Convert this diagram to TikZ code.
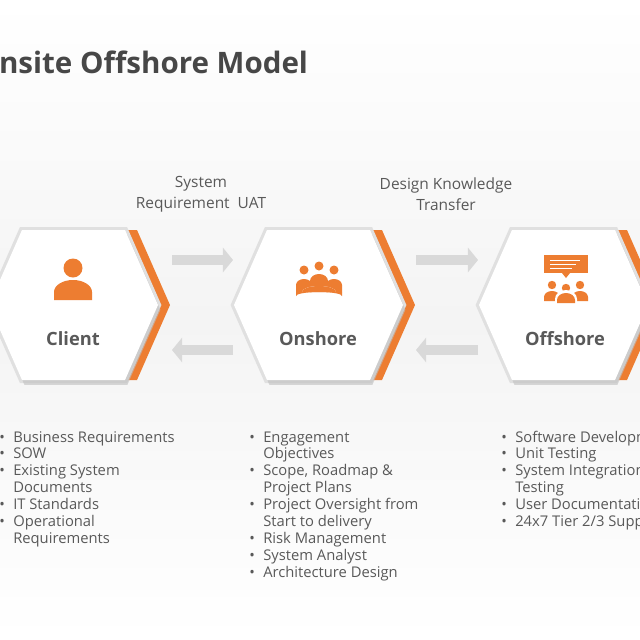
\documentclass[tikz,border=0pt]{standalone}
\usepackage{fontspec}
\setmainfont{Open Sans}
\usetikzlibrary{shadows,arrows.meta}
\definecolor{brandorange}{HTML}{ED7D31}
\definecolor{textgray}{HTML}{595959}
\definecolor{arrowgray}{HTML}{D9D9D9}
\definecolor{pagegray}{HTML}{F4F4F4}
\tikzset{
  hexbox/.style={fill=white,
    general shadow={shadow xshift=0pt, shadow yshift=0pt, shadow scale=1.04, fill=black!12},
    general shadow={shadow xshift=0.6mm, shadow yshift=-1.2mm, fill=black!25, opacity=.6}},
  chevron/.style={fill=brandorange},
  flowarrow/.style={draw=arrowgray, line width=2.6mm, -{Triangle[length=2.5mm,width=6mm]}},
  caption/.style={text=textgray, font=\fontsize{11}{15}\selectfont, align=center},
  hexlabel/.style={text=textgray, font=\bfseries\fontsize{13}{15}\selectfont},
  bulletlist/.style={text=textgray, font=\fontsize{10.5}{12}\selectfont, anchor=north west, inner sep=0pt},
  icon/.style={fill=brandorange, draw=none}
}
\newcommand{\hexcell}[1]{%
  % orange chevron behind the hexagon
  \fill[chevron] (#1+125,230) -- (#1+137,230) -- (#1+170,305) -- (#1+137,380) -- (#1+125,380) -- cycle;
  \path[hexbox] (#1+22,230) -- (#1+125,230) -- (#1+158,305) -- (#1+125,380) -- (#1+22,380) -- (#1-11,305) -- cycle;
}
\newcommand{\blist}[1]{\begin{tabular}{@{}l@{\hspace{6pt}}l@{}}#1\end{tabular}}
\begin{document}
\begin{tikzpicture}[x=0.025cm, y=-0.025cm]
\useasboundingbox (0,0) rectangle (640,640);
\clip (0,0) rectangle (640,640);
\shade[top color=white, bottom color=pagegray] (0,0) rectangle (640,320);
\shade[top color=pagegray, bottom color=white] (0,320) rectangle (640,640);
\node[anchor=base east, text=textgray!80!black, font=\bfseries\fontsize{21}{24}\selectfont] (title) at (313,73) {Onsite Offshore Model};

% hexagons
\hexcell{0}
\hexcell{245}
\hexcell{490}
\node[hexlabel] (client) at (73,339) {Client};
\node[hexlabel] (onshore) at (318,339) {Onshore};
\node[hexlabel] (offshore) at (565,339) {Offshore};

% client icon
\fill[icon] (73,268) circle (9.5);
\fill[icon] (54,300) -- (54,292) arc (180:360:19 and 12) -- (92,300) -- cycle;

% onshore icon
\foreach \px/\py in {304/270, 319/266, 334/270}{
  \fill[icon] (\px,\py) circle (4.5);
}
\fill[icon] (296,292) -- (296,285) arc (180:360:8 and 6) -- (312,292) -- cycle;
\fill[icon] (326,292) -- (326,285) arc (180:360:8 and 6) -- (342,292) -- cycle;
\fill[icon] (310,292) -- (310,281) arc (180:360:9 and 7) -- (328,292) -- cycle;
\fill[white] (302,292) arc (180:360:17 and 6) -- cycle;
\fill[icon] (296,296) -- (296,292) -- (302,292) arc (180:360:17 and 6) -- (342,292) -- (342,296) arc (0:180:23 and -4) -- cycle;

% offshore icon
\fill[icon] (544,255) rectangle (588,273);
\fill[icon] (562,273) -- (566,278) -- (570,273) -- cycle;
\foreach \ly/\lx in {260/580, 264/576, 268/572}{
  \draw[white, line width=0.5pt] (550,\ly) -- (\lx,\ly);
}
\foreach \px/\py in {552/285, 566/288, 580/285}{
  \fill[icon] (\px,\py) circle (4.2);
}
\fill[icon] (544,301) -- (544,297) arc (180:360:8 and 6) -- (560,301) -- cycle;
\fill[icon] (572,301) -- (572,297) arc (180:360:8 and 6) -- (588,301) -- cycle;
\fill[white] (555,304) -- (555,299) arc (180:360:11 and 9) -- (577,304) -- cycle;
\fill[icon] (557,303) -- (557,300) arc (180:360:9 and 7) -- (575,303) -- cycle;

% connectors
\coordinate (a1s) at (172,260); \coordinate (a1e) at (233,260);
\coordinate (a2s) at (233,350); \coordinate (a2e) at (172,350);
\coordinate (a3s) at (416,260); \coordinate (a3e) at (478,260);
\coordinate (a4s) at (478,350); \coordinate (a4e) at (416,350);
\draw[flowarrow] (a1s) -- (a1e);
\draw[flowarrow] (a2s) -- (a2e);
\draw[flowarrow] (a3s) -- (a3e);
\draw[flowarrow] (a4s) -- (a4e);
\node[caption] (capclient) at (201,194) {System\\Requirement\ \ UAT};
\node[caption] (caponshore) at (446,194) {Design Knowledge\\Transfer};

% bullet lists
\node[bulletlist] (listclient) at (-1,430) {\blist{%
\textbullet & Business Requirements\\
\textbullet & SOW\\
\textbullet & Existing System\\ & Documents\\
\textbullet & IT Standards\\
\textbullet & Operational\\ & Requirements}};
\node[bulletlist] (listonshore) at (249,430) {\blist{%
\textbullet & Engagement\\ & Objectives\\
\textbullet & Scope, Roadmap \&\\ & Project Plans\\
\textbullet & Project Oversight from\\ & Start to delivery\\
\textbullet & Risk Management\\
\textbullet & System Analyst\\
\textbullet & Architecture Design}};
\node[bulletlist] (listoffshore) at (501,430) {\blist{%
\textbullet & Software Development\\
\textbullet & Unit Testing\\
\textbullet & System Integration\\ & Testing\\
\textbullet & User Documentation\\
\textbullet & 24x7 Tier 2/3 Support}};
\end{tikzpicture}
\end{document}
